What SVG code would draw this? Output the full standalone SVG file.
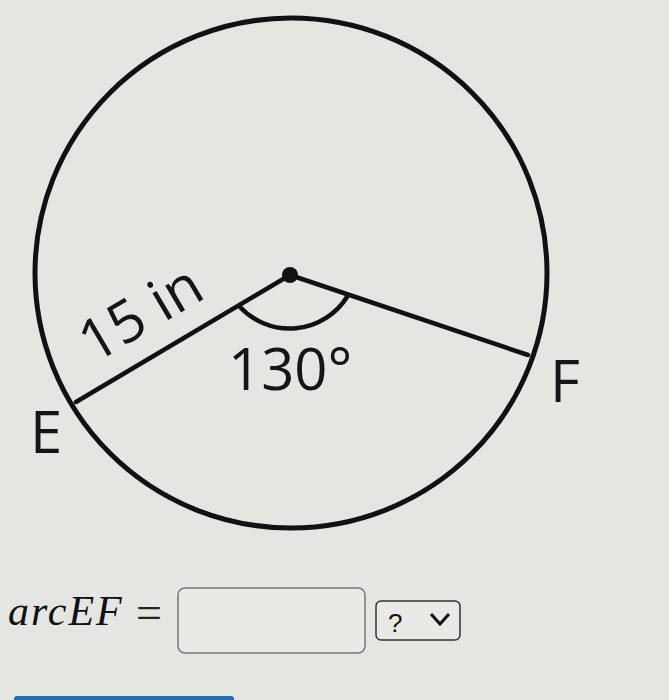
<svg xmlns="http://www.w3.org/2000/svg" width="669" height="700" viewBox="0 0 669 700">
<style>
.ln{fill:none;stroke:#111;stroke-linecap:round}
.lbl{font-family:"Open Sans","Liberation Sans",sans-serif;fill:#151515}
.math{font-family:"Liberation Serif","DejaVu Serif",serif;font-style:italic;fill:#111}
</style>
<rect width="669" height="700" fill="#e5e6e2"/>
<g id="circle"><ellipse class="ln" cx="291" cy="273" rx="256" ry="255" stroke-width="5"/></g>
<g id="connectors">
<line class="ln" x1="290" y1="275" x2="76" y2="402" stroke-width="4.5"/>
<line class="ln" x1="290" y1="275" x2="528" y2="355" stroke-width="4.5"/>
<path class="ln" d="M240 307 A68 68 0 0 0 347 297" stroke-width="4.5"/>
</g>
<g id="center"><circle cx="290" cy="275" r="8" fill="#111"/></g>
<g id="label-15in"><text class="lbl" font-size="58" transform="translate(94,364) rotate(-30.6)">15 in</text></g>
<g id="label-angle"><text class="lbl" font-size="58" x="228" y="390">130°</text></g>
<g id="label-E"><text class="lbl" font-size="58" x="30" y="453">E</text></g>
<g id="label-F"><text class="lbl" font-size="58" x="550" y="402">F</text></g>
<g id="answer">
<text class="math" font-size="42" x="8" y="625" letter-spacing="2">arcEF</text>
<text font-family="'Liberation Serif',serif" font-size="46" x="136" y="628" fill="#222">=</text>
<rect x="178" y="588" width="187" height="65" rx="7" fill="#e9eae6" stroke="#777" stroke-width="1.5"/>
<rect x="376" y="601" width="84" height="39" rx="5" fill="#e9eae6" stroke="#333" stroke-width="1.5"/>
<text font-family="'Liberation Sans',sans-serif" font-size="26" x="388" y="632" fill="#111">?</text>
<path d="M431 614 L440 624 L449 614" fill="none" stroke="#111" stroke-width="3"/>
</g>
<rect x="14" y="696" width="220" height="6" rx="3" fill="#2a6cb0"/>
</svg>
